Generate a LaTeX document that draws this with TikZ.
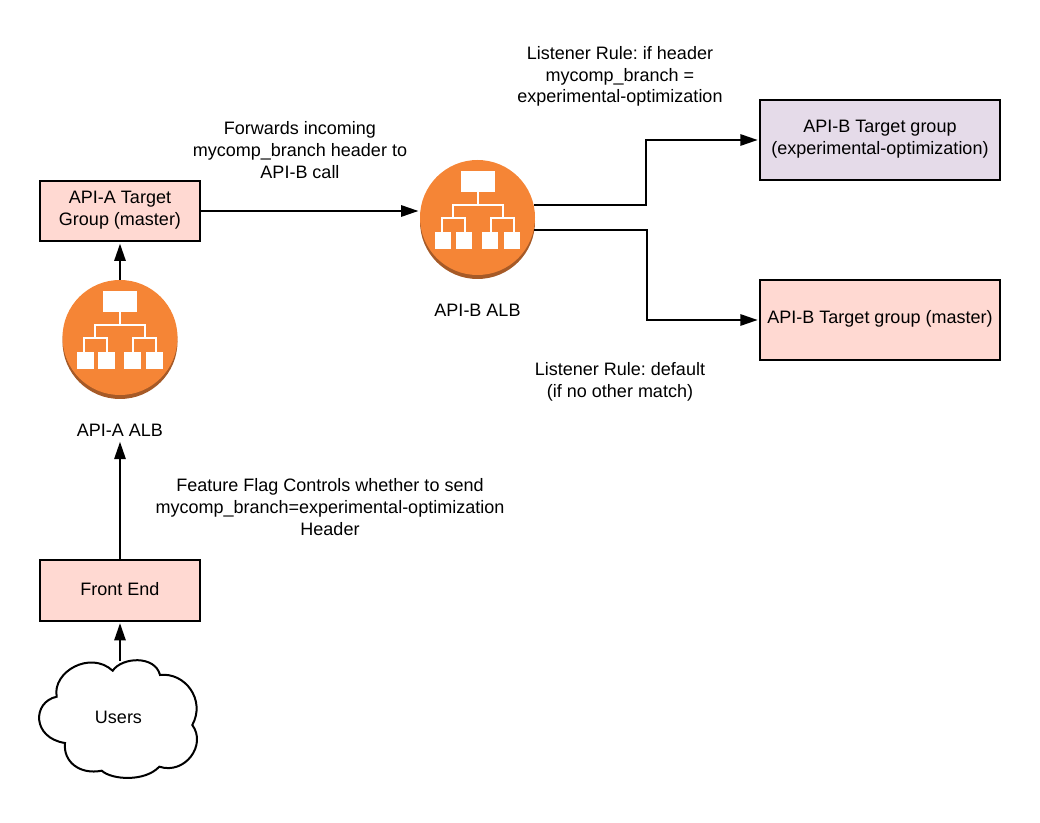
\documentclass[tikz,border=0pt]{standalone}
\usepackage{fontspec}
\setmainfont{Liberation Sans}
\usetikzlibrary{arrows.meta,shadows}
\definecolor{pinkfill}{HTML}{FFD9D2}
\definecolor{purplefill}{HTML}{E5DBE9}
\definecolor{alborange}{HTML}{F58536}
\definecolor{albdark}{HTML}{A65A27}
\newcommand{\lift}{\rule[-4pt]{0pt}{0pt}}
\tikzset{
  every node/.style={font=\fontsize{13.5}{16.3}\selectfont\frenchspacing, align=center, inner sep=0pt},
  target/.style={draw, line width=1.5pt, minimum width=120pt, minimum height=45.5pt},
  targetwide/.style={target, minimum width=180pt, minimum height=60pt},
  alb/.style={circle, fill=alborange, minimum size=86.25pt,
    general shadow={fill=albdark, shadow xshift=0pt, shadow yshift=-3pt}},
  conn/.style={line width=1.5pt, shorten >=1pt, -{Triangle[length=13pt,width=8.5pt]}},
  albicon/.pic={
    \fill[white] (-17,-46.5) rectangle (17,-25.5);
    \draw[white, line width=1.5pt] (0,-25.5) -- (0,-12)
      (-25,0.5) |- (25,-12) -- (25,0.5)
      (-36,14.5) |- (-13,0.5) -- (-13,14.5)
      (36,14.5) |- (13,0.5) -- (13,14.5);
    \foreach \boxx in {-43,-22,4,26}
      \fill[white] (\boxx,14.5) rectangle ++(16.5,17);
  }
}
\begin{document}
\begin{tikzpicture}[x=0.75pt,y=-0.75pt]
  \useasboundingbox (0,0) rectangle (1040,823);
  % boxes
  \node[target, fill=pinkfill] (tgA) at (120,211) {API-A Target\\Group (master)\lift};
  \node[target, fill=pinkfill] (frontend) at (120,590.5) {Front End\rule[-2pt]{0pt}{0pt}};
  \node[targetwide, fill=purplefill] (tgBexp) at (880,140) {API-B Target group\\(experimental-optimization)\lift};
  \node[targetwide, fill=pinkfill] (tgBmaster) at (880,320) {API-B Target group (master)\lift};
  % load balancers
  \node[alb] (albA) at (120,337.5) {};
  \node[alb] (albB) at (477.5,217.5) {};
  \pic at (albA) {albicon};
  \pic at (albB) {albicon};
  \node[inner sep=3pt] (albAlabel) at (120,430) {API-A ALB};
  \node (albBlabel) at (477.5,310) {API-B ALB};
  % cloud
  \draw[fill=white, line width=1.5pt] (112.7,670.7)
    .. controls (122,657) and (155,655) .. (160,675)
    .. controls (185,672) and (206,700) .. (192.3,725)
    .. controls (207,745) and (185,775) .. (159.3,766.7)
    .. controls (145,782) and (112,780) .. (101.7,770.7)
    .. controls (80,775) and (63,762) .. (65,743)
    .. controls (32,738) and (32,702) .. (56.7,696.7)
    .. controls (52,672) and (90,650) .. (112.7,670.7) -- cycle;
  \coordinate (cloudtop) at (120,661);
  \node (users) at (118.5,717) {Users};
  % connectors
  \draw[conn] (cloudtop) -- (frontend.south);
  \draw[conn] (frontend.north) -- (albAlabel.south);
  \draw[conn] (albA.north) -- (tgA.south);
  \draw[conn] (tgA.east) -- (tgA.east -| albB.west);
  \draw[conn] (albB.12.6) -| (646,140) -- (tgBexp.west);
  \draw[conn] (albB.-12.6) -| (647,320) -- (tgBmaster.west);
  % texts
  \node (fwdtext) at (300,150) {Forwards incoming\\mycomp\_branch header to\\API-B call};
  \node (ruletext) at (620,76.5) {Listener Rule: if header\\mycomp\_branch =\\experimental-optimization};
  \node (defaulttext) at (620,381.5) {Listener Rule: default\\(if no other match)};
  \node (flagtext) at (330,507) {Feature Flag Controls whether to send\\mycomp\_branch=experimental-optimization\\Header};
\end{tikzpicture}
\end{document}
